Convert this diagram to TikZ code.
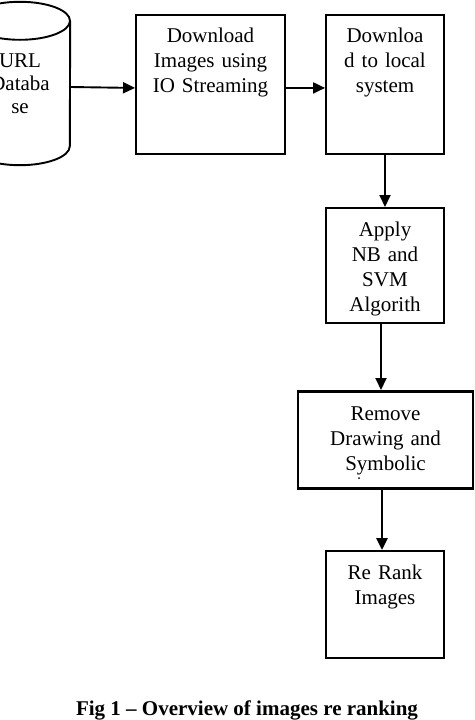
\documentclass[tikz,border=0pt]{standalone}
\usepackage{fontspec}
\setmainfont{Liberation Serif}
\usetikzlibrary{arrows.meta}

\tikzset{
  stepbox/.style={draw, line width=1.9pt, align=center, anchor=north,
    inner xsep=2pt, inner ysep=0pt, font={\fontsize{21}{25}\selectfont}},
  flow/.style={line width=1.9pt, -{Triangle[length=12pt,width=11pt]}},
}

\begin{document}
\begin{tikzpicture}[x=1pt,y=-1pt]
\useasboundingbox (0,0) rectangle (474,720);
\clip (0,0) rectangle (474,720);

% database cylinder, cut at the left edge
\node [minimum width=100pt, minimum height=125pt, inner sep=0pt, align=center,
font={\fontsize{21}{23}\selectfont}] (db) at (20,83.5) {URL\\Databa\\se};
\draw [line width=1.9pt] (db.north west) -- (db.south west)
  arc [start angle=180, end angle=360, x radius=50pt, y radius=19pt] -- (db.north east);
\draw [line width=1.9pt] (db.north) ellipse [x radius=50pt, y radius=19pt];

\node [stepbox, text width=145pt, text height=28pt, text depth=111pt] (stream)
 at (210.5,14) {Download\\Images using\\IO Streaming};

\node [stepbox, text width=114pt, text height=28pt, text depth=111pt] (local)
 at (385,14) {Downloa\\d to local\\system};

\node [stepbox, text width=114pt, text height=29pt, text depth=86pt] (svm)
 at (385,207) {Apply\\NB and\\SVM\\Algorith};

\node [stepbox, line width=2.8pt, text width=171pt, text height=29pt, text depth=68pt] (remove)
 at (385.5,390) {Remove\\Drawing and\\Symbolic};
\fill (359,478) circle (1pt);

\node [stepbox, text width=114pt, text height=29pt, text depth=78pt] (rerank)
 at (385,550) {Re Rank\\Images};

\draw [flow] ([yshift=-3.5pt]db.east) -- ([yshift=-3.5pt]stream.west);
\draw [flow] ([yshift=-3.5pt]stream.east) -- ([yshift=-3.5pt]local.west);
\draw [flow] (local.south) -- (svm.north);
\draw [flow] ([xshift=-4pt]svm.south) -- ([xshift=-4.5pt]remove.north);
\draw [flow, line width=2.8pt] ([xshift=-3.5pt]remove.south) -- ([xshift=-3pt]rerank.north);

\node [anchor=base, font={\bfseries\fontsize{21}{25}\selectfont}] (caption)
 at (247,715) {Fig 1 – Overview of images re ranking};

\end{tikzpicture}
\end{document}
